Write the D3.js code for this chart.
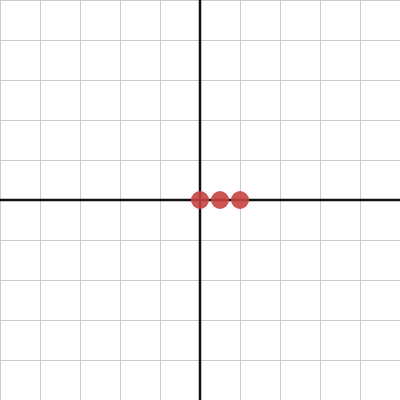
<!DOCTYPE html>
<html>
<head>
<meta charset="utf-8">
<script src="https://cdn.jsdelivr.net/npm/d3@7"></script>
<style>body{margin:0;background:#fff}</style>
</head>
<body>
<div id="plot"></div>
<script>
const width = 400;
const height = 400;

// data
const xDomain = [-5, 5];
const yDomain = [-5, 5];
const gridTicks = d3.range(-5, 6, 1);
const pointsX = [0, 0.5, 1];
const pointsY = [0, 0, 0];

const svg = d3.select("div#plot")
  .append("svg")
    .attr("width", width)
    .attr("height", height);

const xScale = d3.scaleLinear().domain(xDomain).range([0, width]);
const yScale = d3.scaleLinear().domain(yDomain).range([height, 0]);

// grid
svg.append("g")
  .selectAll("line")
  .data(gridTicks)
  .join("line")
    .attr("x1", d => xScale(d) + 0.5).attr("x2", d => xScale(d) + 0.5)
    .attr("y1", 0).attr("y2", height)
    .attr("stroke", "#ccc").attr("stroke-width", 1);

svg.append("g")
  .selectAll("line")
  .data(gridTicks)
  .join("line")
    .attr("y1", d => yScale(d) + 0.5).attr("y2", d => yScale(d) + 0.5)
    .attr("x1", 0).attr("x2", width)
    .attr("stroke", "#ccc").attr("stroke-width", 1);

// axes
svg.append("line")
    .attr("x1", 0).attr("x2", width)
    .attr("y1", yScale(0)).attr("y2", yScale(0))
    .attr("stroke", "#111").attr("stroke-width", 2.5);

svg.append("line")
    .attr("x1", xScale(0)).attr("x2", xScale(0))
    .attr("y1", 0).attr("y2", height)
    .attr("stroke", "#111").attr("stroke-width", 2.5);

// points
svg.append("g")
  .selectAll("circle")
  .data(pointsX.map((x, i) => [x, pointsY[i]]))
  .join("circle")
    .attr("cx", d => xScale(d[0]))
    .attr("cy", d => yScale(d[1]))
    .attr("r", 9)
    .attr("fill", "#c74440")
    .attr("fill-opacity", 0.9);
</script>
</body>
</html>
